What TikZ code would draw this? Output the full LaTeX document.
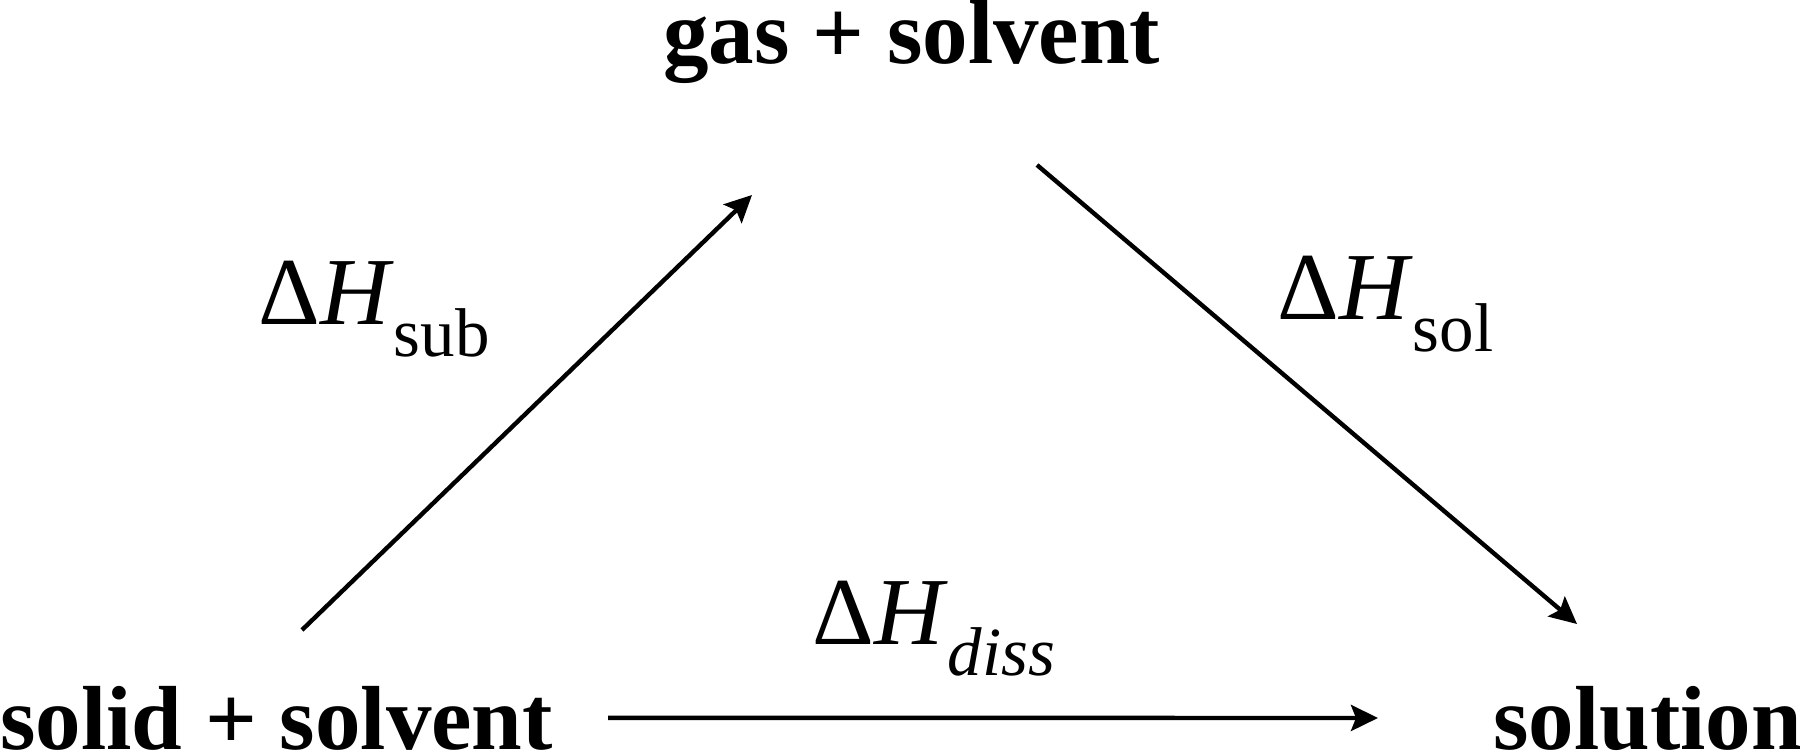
\documentclass[tikz,border=0pt]{standalone}
\usepackage{fontspec}
\setmainfont{Liberation Serif}
\usetikzlibrary{arrows.meta}
\newcommand\dsub[1]{\raisebox{-16pt}{\fontsize{34.5}{40}\selectfont #1}}
\begin{document}
\begin{tikzpicture}[x=0.5pt,y=-0.5pt,
  state/.style={inner sep=0pt, anchor=base west, font=\fontsize{45.5}{50}\selectfont\bfseries},
  lbl/.style={inner sep=0pt, anchor=base west, font=\fontsize{48}{56}\selectfont},
  conn/.style={line width=2.2pt, -{Stealth[length=13.5pt,width=13pt,inset=2.5pt]}}]
\useasboundingbox[fill=white] (0,0) rectangle (1800,753);
\node[state] (gas) at (663,64) {gas + solvent};
\node[state] (solid) at (0,749) {solid + solvent};
\node[state] (soln) at (1493,749) {solution};
\node[lbl] (lsub) at (258,325) {Δ\textit{H}\dsub{sub}};
\node[lbl] (lsol) at (1277,320) {Δ\textit{H}\dsub{sol}};
\node[lbl] (ldiss) at (812,644) {Δ\textit{H}\dsub{\textit{diss}}};
\coordinate (a1s) at (302,630);
\coordinate (a1e) at (752,195);
\coordinate (a2s) at (1037,165);
\coordinate (a2e) at (1577,624);
\draw[conn] (a1s) -- (a1e);
\draw[conn] (a2s) -- (a2e);
\draw[conn, shorten <=27.5pt, shorten >=57.5pt] (solid.east) -- (soln.west);
\end{tikzpicture}
\end{document}
